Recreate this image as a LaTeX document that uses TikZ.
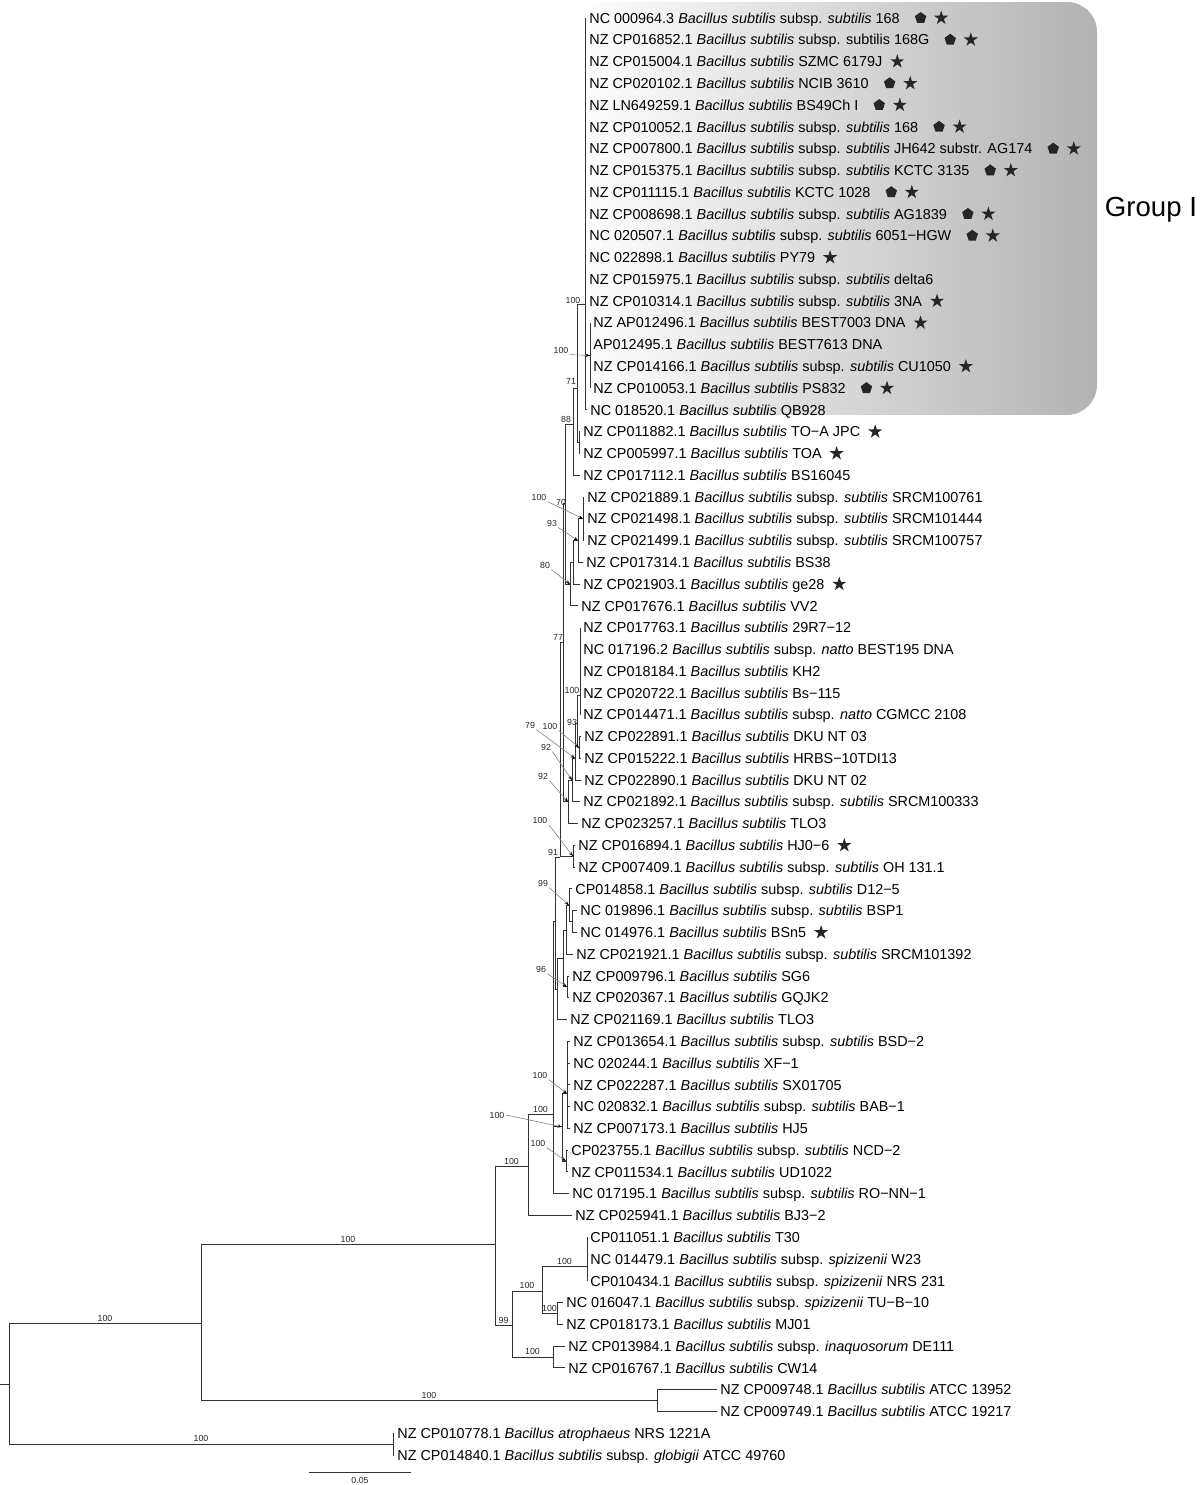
\documentclass[tikz,border=0pt]{standalone}
\usepackage{fontspec}
\setmainfont{Liberation Sans}
\usetikzlibrary{positioning,shapes.geometric,arrows.meta}
\newcommand{\Bsub}{\textit{Bacillus subtilis}}

\begin{document}
\begin{tikzpicture}[x=0.5pt,y=-10.8865pt,
  br/.style={draw=black!80,line width=0.5pt},
  leaf/.style={anchor=west,inner xsep=1.5pt,inner ysep=0pt,font=\fontsize{7.2pt}{8pt}\selectfont,text height=5.4pt,text depth=0.25pt},
  bs/.style={font=\fontsize{4.4pt}{5pt}\selectfont,inner sep=0.5pt,text height=3.2pt,text depth=0pt,text=black!85},
  bsl/.style={bs,above=0.4pt},
  arr/.style={draw=black!50,line width=0.3pt,-{Stealth[length=2.2pt,width=1.6pt,black]}},
  pent/.style={regular polygon,regular polygon sides=5,fill=black!85,inner sep=0pt,minimum size=6pt},
  starm/.style={star,star points=5,star point ratio=2.618,fill=black!85,inner sep=0pt,minimum size=7.4pt}]
\useasboundingbox (0,0.1733) rectangle (1200,68.377);

\shade[left color=white,right color=black!30,rounded corners=15pt] (577,0.265) rectangle (1097,19.23);
\node (grp) at (1151,9.68) [font=\fontsize{13.8pt}{16pt}\selectfont,text height=9.9pt,text depth=0pt,inner sep=0pt] {Group I};

\node (l1) at (586,1) [leaf] {NC 000964.3 \Bsub{} subsp. \textit{subtilis} 168};
\node (l2) at (586,2) [leaf] {NZ CP016852.1 \Bsub{} subsp. subtilis 168G};
\node (l3) at (586,3) [leaf] {NZ CP015004.1 \Bsub{} SZMC 6179J};
\node (l4) at (586,4) [leaf] {NZ CP020102.1 \Bsub{} NCIB 3610};
\node (l5) at (586,5) [leaf] {NZ LN649259.1 \Bsub{} BS49Ch I};
\node (l6) at (586,6) [leaf] {NZ CP010052.1 \Bsub{} subsp. \textit{subtilis} 168};
\node (l7) at (586,7) [leaf] {NZ CP007800.1 \Bsub{} subsp. \textit{subtilis} JH642 substr. AG174};
\node (l8) at (586,8) [leaf] {NZ CP015375.1 \Bsub{} subsp. \textit{subtilis} KCTC 3135};
\node (l9) at (586,9) [leaf] {NZ CP011115.1 \Bsub{} KCTC 1028};
\node (l10) at (586,10) [leaf] {NZ CP008698.1 \Bsub{} subsp. \textit{subtilis} AG1839};
\node (l11) at (586,11) [leaf] {NC 020507.1 \Bsub{} subsp. \textit{subtilis} 6051−HGW};
\node (l12) at (586,12) [leaf] {NC 022898.1 \Bsub{} PY79};
\node (l13) at (586,13) [leaf] {NZ CP015975.1 \Bsub{} subsp. \textit{subtilis} delta6};
\node (l14) at (586,14) [leaf] {NZ CP010314.1 \Bsub{} subsp. \textit{subtilis} 3NA};
\node (l15) at (590,15) [leaf] {NZ AP012496.1 \Bsub{} BEST7003 DNA};
\node (l16) at (590,16) [leaf] {AP012495.1 \Bsub{} BEST7613 DNA};
\node (l17) at (590,17) [leaf] {NZ CP014166.1 \Bsub{} subsp. \textit{subtilis} CU1050};
\node (l18) at (590,18) [leaf] {NZ CP010053.1 \Bsub{} PS832};
\node (l19) at (587,19) [leaf] {NC 018520.1 \Bsub{} QB928};
\node (l20) at (580,20) [leaf] {NZ CP011882.1 \Bsub{} TO−A JPC};
\node (l21) at (580,21) [leaf] {NZ CP005997.1 \Bsub{} TOA};
\node (l22) at (580,22) [leaf] {NZ CP017112.1 \Bsub{} BS16045};
\node (l23) at (584,23) [leaf] {NZ CP021889.1 \Bsub{} subsp. \textit{subtilis} SRCM100761};
\node (l24) at (584,24) [leaf] {NZ CP021498.1 \Bsub{} subsp. \textit{subtilis} SRCM101444};
\node (l25) at (584,25) [leaf] {NZ CP021499.1 \Bsub{} subsp. \textit{subtilis} SRCM100757};
\node (l26) at (583,26) [leaf] {NZ CP017314.1 \Bsub{} BS38};
\node (l27) at (580,27) [leaf] {NZ CP021903.1 \Bsub{} ge28};
\node (l28) at (578,28) [leaf] {NZ CP017676.1 \Bsub{} VV2};
\node (l29) at (580,29) [leaf] {NZ CP017763.1 \Bsub{} 29R7−12};
\node (l30) at (580,30) [leaf] {NC 017196.2 \Bsub{} subsp. \textit{natto} BEST195 DNA};
\node (l31) at (580,31) [leaf] {NZ CP018184.1 \Bsub{} KH2};
\node (l32) at (580,32) [leaf] {NZ CP020722.1 \Bsub{} Bs−115};
\node (l33) at (580,33) [leaf] {NZ CP014471.1 \Bsub{} subsp. \textit{natto} CGMCC 2108};
\node (l34) at (581,34) [leaf] {NZ CP022891.1 \Bsub{} DKU NT 03};
\node (l35) at (581,35) [leaf] {NZ CP015222.1 \Bsub{} HRBS−10TDI13};
\node (l36) at (581,36) [leaf] {NZ CP022890.1 \Bsub{} DKU NT 02};
\node (l37) at (580,37) [leaf] {NZ CP021892.1 \Bsub{} subsp. \textit{subtilis} SRCM100333};
\node (l38) at (578,38) [leaf] {NZ CP023257.1 \Bsub{} TLO3};
\node (l39) at (575,39) [leaf] {NZ CP016894.1 \Bsub{} HJ0−6};
\node (l40) at (575,40) [leaf] {NZ CP007409.1 \Bsub{} subsp. \textit{subtilis} OH 131.1};
\node (l41) at (572,41) [leaf] {CP014858.1 \Bsub{} subsp. \textit{subtilis} D12−5};
\node (l42) at (577,42) [leaf] {NC 019896.1 \Bsub{} subsp. \textit{subtilis} BSP1};
\node (l43) at (577,43) [leaf] {NC 014976.1 \Bsub{} BSn5};
\node (l44) at (573,44) [leaf] {NZ CP021921.1 \Bsub{} subsp. \textit{subtilis} SRCM101392};
\node (l45) at (569,45) [leaf] {NZ CP009796.1 \Bsub{} SG6};
\node (l46) at (569,46) [leaf] {NZ CP020367.1 \Bsub{} GQJK2};
\node (l47) at (567,47) [leaf] {NZ CP021169.1 \Bsub{} TLO3};
\node (l48) at (570,48) [leaf] {NZ CP013654.1 \Bsub{} subsp. \textit{subtilis} BSD−2};
\node (l49) at (570,49) [leaf] {NC 020244.1 \Bsub{} XF−1};
\node (l50) at (570,50) [leaf] {NZ CP022287.1 \Bsub{} SX01705};
\node (l51) at (570,51) [leaf] {NC 020832.1 \Bsub{} subsp. \textit{subtilis} BAB−1};
\node (l52) at (570,52) [leaf] {NZ CP007173.1 \Bsub{} HJ5};
\node (l53) at (568,53) [leaf] {CP023755.1 \Bsub{} subsp. \textit{subtilis} NCD−2};
\node (l54) at (568,54) [leaf] {NZ CP011534.1 \Bsub{} UD1022};
\node (l55) at (569,55) [leaf] {NC 017195.1 \Bsub{} subsp. \textit{subtilis} RO−NN−1};
\node (l56) at (572,56) [leaf] {NZ CP025941.1 \Bsub{} BJ3−2};
\node (l57) at (587,57) [leaf] {CP011051.1 \Bsub{} T30};
\node (l58) at (587,58) [leaf] {NC 014479.1 \Bsub{} subsp. \textit{spizizenii} W23};
\node (l59) at (587,59) [leaf] {CP010434.1 \Bsub{} subsp. \textit{spizizenii} NRS 231};
\node (l60) at (563,60) [leaf] {NC 016047.1 \Bsub{} subsp. \textit{spizizenii} TU−B−10};
\node (l61) at (563,61) [leaf] {NZ CP018173.1 \Bsub{} MJ01};
\node (l62) at (565,62) [leaf] {NZ CP013984.1 \Bsub{} subsp. \textit{inaquosorum} DE111};
\node (l63) at (565,63) [leaf] {NZ CP016767.1 \Bsub{} CW14};
\node (l64) at (717,64) [leaf] {NZ CP009748.1 \Bsub{} ATCC 13952};
\node (l65) at (717,65) [leaf] {NZ CP009749.1 \Bsub{} ATCC 19217};
\node (l66) at (394,66) [leaf] {NZ CP010778.1 \textit{Bacillus atrophaeus} NRS 1221A};
\node (l67) at (394,67) [leaf] {NZ CP014840.1 \Bsub{} subsp. \textit{globigii} ATCC 49760};

\foreach \i in {1,2,4,5,6,7,8,9,10,11,18} {
  \node (p\i) [pent,right=6pt of l\i] {};
  \node (s\i) [starm,right=8pt of p\i.center] {};
}
\foreach \i in {3,12,14,15,17,20,21,27,39,43}
  \node (s\i) [starm,right=3.5pt of l\i] {};

\coordinate (GI) at (585,14.18);
\coordinate (S) at (590,16.5);
\coordinate (T) at (579,20.5);
\coordinate (N71) at (577,18);
\coordinate (N88) at (573,19.65);
\coordinate (Na) at (583,24);
\coordinate (Nb) at (578,25);
\coordinate (Nc) at (573,26);
\coordinate (Nd) at (570,27);
\coordinate (N70) at (565,23.3);
\coordinate (P1) at (580,32.1);
\coordinate (Q1) at (579,34.5);
\coordinate (P2) at (577,33.4);
\coordinate (Q2) at (575,35);
\coordinate (Q3) at (572,36);
\coordinate (Q4) at (568,37);
\coordinate (N77) at (563,29.7);
\coordinate (R1) at (573,39.5);
\coordinate (N91) at (560,39.55);
\coordinate (S2) at (572,42.5);
\coordinate (S1) at (569,41.75);
\coordinate (S3) at (566,42.9);
\coordinate (S4) at (567,45.5);
\coordinate (S5) at (563,44.2);
\coordinate (S6) at (557,45.6);
\coordinate (K) at (555,42.5);
\coordinate (L1) at (567,50.4);
\coordinate (L2) at (566,53.5);
\coordinate (L) at (562,51.93);
\coordinate (J) at (553,51.38);
\coordinate (D) at (528,53.77);
\coordinate (H) at (587,58.36);
\coordinate (I) at (557,60.5);
\coordinate (F) at (542,59.47);
\coordinate (G) at (553,62.5);
\coordinate (E) at (512,61.07);
\coordinate (B) at (495,57.35);
\coordinate (C) at (657,64.5);
\coordinate (A) at (201,60.98);
\coordinate (OUT) at (393,66.5);
\coordinate (R) at (9,63.78);
\coordinate (R0) at (0,63.78);

\foreach \i in {1,...,14,19} \draw[br] (GI) |- (l\i.west);
\foreach \i in {15,...,18} \draw[br] (S) |- (l\i.west);
\draw[br] (GI) |- (S);
\foreach \i in {20,21} \draw[br] (T) |- (l\i.west);
\draw[br] (N71) |- (GI);
\draw[br] (N71) |- (T);
\draw[br] (N88) |- (N71);
\draw[br] (N88) |- (l22.west);
\foreach \i in {23,24,25} \draw[br] (Na) |- (l\i.west);
\draw[br] (Nb) |- (Na);
\draw[br] (Nb) |- (l26.west);
\draw[br] (Nc) |- (Nb);
\draw[br] (Nc) |- (l27.west);
\draw[br] (Nd) |- (Nc);
\draw[br] (Nd) |- (l28.west);
\draw[br] (N70) |- (N88);
\draw[br] (N70) |- (Nd);
\foreach \i in {29,...,33} \draw[br] (P1) |- (l\i.west);
\foreach \i in {34,35} \draw[br] (Q1) |- (l\i.west);
\draw[br] (P2) |- (P1);
\draw[br] (P2) |- (Q1);
\draw[br] (Q2) |- (P2);
\draw[br] (Q2) |- (l36.west);
\draw[br] (Q3) |- (Q2);
\draw[br] (Q3) |- (l37.west);
\draw[br] (Q4) |- (Q3);
\draw[br] (Q4) |- (l38.west);
\draw[br] (N77) |- (N70);
\draw[br] (N77) |- (Q4);
\foreach \i in {39,40} \draw[br] (R1) |- (l\i.west);
\draw[br] (N91) |- (N77);
\draw[br] (N91) |- (R1);
\foreach \i in {42,43} \draw[br] (S2) |- (l\i.west);
\draw[br] (S1) |- (l41.west);
\draw[br] (S1) |- (S2);
\draw[br] (S3) |- (S1);
\draw[br] (S3) |- (l44.west);
\foreach \i in {45,46} \draw[br] (S4) |- (l\i.west);
\draw[br] (S5) |- (S3);
\draw[br] (S5) |- (S4);
\draw[br] (S6) |- (S5);
\draw[br] (S6) |- (l47.west);
\draw[br] (K) |- (N91);
\draw[br] (K) |- (S6);
\foreach \i in {48,...,52} \draw[br] (L1) |- (l\i.west);
\foreach \i in {53,54} \draw[br] (L2) |- (l\i.west);
\draw[br] (L) |- (L1);
\draw[br] (L) |- (L2);
\draw[br] (J) |- (K);
\draw[br] (J) |- (L);
\draw[br] (J) |- (l55.west);
\draw[br] (D) |- node[bsl,pos=0.75] {100} (J);
\draw[br] (D) |- (l56.west);
\foreach \i in {57,58,59} \draw[br] (H) |- (l\i.west);
\foreach \i in {60,61} \draw[br] (I) |- (l\i.west);
\draw[br] (F) |- node[bsl,pos=0.75] {100} (H);
\draw[br] (F) |- node[bsl,pos=0.75] {100} (I);
\foreach \i in {62,63} \draw[br] (G) |- (l\i.west);
\draw[br] (E) |- node[bsl,pos=0.75] {100} (F);
\draw[br] (E) |- node[bsl,pos=0.75] {100} (G);
\draw[br] (B) |- node[bsl,pos=0.75] {100} (D);
\draw[br] (B) |- node[bsl,pos=0.75] {99} (E);
\foreach \i in {64,65} \draw[br] (C) |- (l\i.west);
\draw[br] (A) |- node[bsl,pos=0.75] {100} (B);
\draw[br] (A) |- node[bsl,pos=0.75] {100} (C);
\foreach \i in {66,67} \draw[br] (OUT) |- (l\i.west);
\draw[br] (R) |- node[bsl,pos=0.75] {100} (A);
\draw[br] (R) |- node[bsl,pos=0.75] {100} (OUT);
\draw[br] (R0) -- (R);

\node (b100gi) at (573,13.95) [bs] {100};
\node (b71) at (571,17.67) [bs] {71};
\node (b88) at (566,19.42) [bs] {88};
\node (b70) at (561,23.23) [bs] {70};
\node (b77) at (558,29.43) [bs] {77};
\node (b100p) at (572,31.86) [bs] {100};
\node (b93p) at (572,33.33) [bs] {93};
\node (b91) at (553,39.3) [bs] {91};

\node (b100s) at (561,16.25) [bs] {100};
\node (b100a) at (539,23.0) [bs] {100};
\node (b93b) at (552,24.19) [bs] {93};
\node (b80) at (545,26.12) [bs] {80};
\node (b79) at (530,33.47) [bs] {79};
\node (b100q) at (550,33.52) [bs] {100};
\node (b92a) at (546,34.48) [bs] {92};
\node (b92b) at (543,35.81) [bs] {92};
\node (b100r) at (540,37.83) [bs] {100};
\node (b99) at (543,40.73) [bs] {99};
\node (b96) at (541,44.68) [bs] {96};
\node (b100m) at (540,49.54) [bs] {100};
\node (b100l) at (497,51.38) [bs] {100};
\node (b100n) at (538,52.67) [bs] {100};
\draw[arr] (b100s.south east) -- (S);
\draw[arr] (b100a.south east) -- (Na);
\draw[arr] (b93b.south east) -- (Nb);
\draw[arr] (b80.south east) -- (Nd);
\draw[arr] (b79.south east) -- (Q2);
\draw[arr] (b100q.south east) -- (Q1);
\draw[arr] (b92a.south east) -- (Q3);
\draw[arr] (b92b.south east) -- (Q4);
\draw[arr] (b100r.south east) -- (R1);
\draw[arr] (b99.south east) -- (S1);
\draw[arr] (b96.south east) -- (S4);
\draw[arr] (b100m.south east) -- (L1);
\draw[arr] (b100l.east) -- (L);
\draw[arr] (b100n.south east) -- (L2);

\coordinate (sb1) at (309,67.78);
\coordinate (sb2) at (411,67.78);
\draw[br] (sb1) -- node[bs,below=1.9pt] {0.05} (sb2);
\end{tikzpicture}
\end{document}
